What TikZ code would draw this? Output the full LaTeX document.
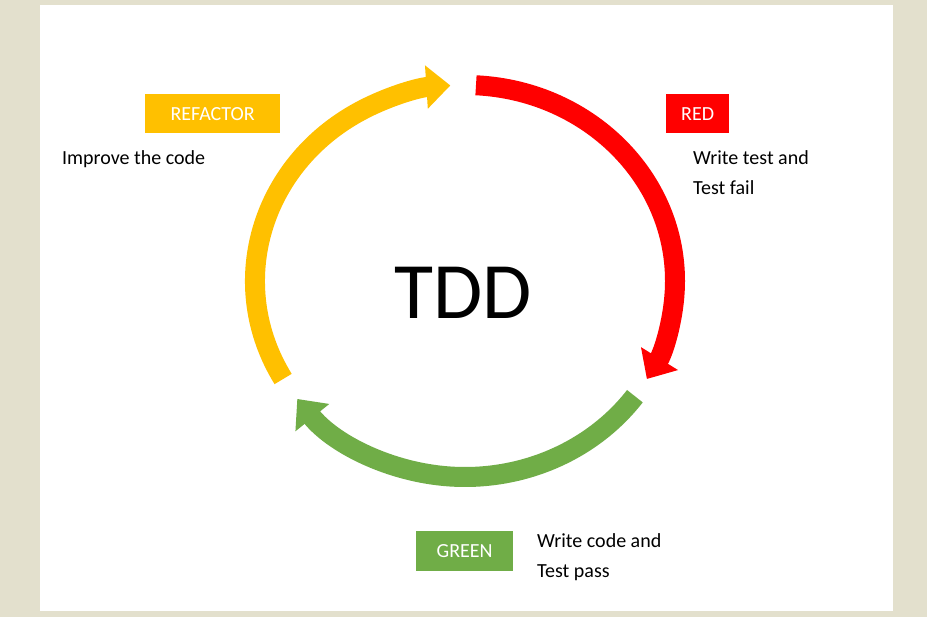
\documentclass[tikz,border=0pt]{standalone}
\usepackage{fontspec}
\setmainfont{Carlito}
\usetikzlibrary{arrows.meta}
\definecolor{bg}{HTML}{E3E0CD}
\definecolor{cred}{HTML}{FF0000}
\definecolor{cyel}{HTML}{FFC000}
\definecolor{cgrn}{HTML}{70AD47}
\begin{document}
\begin{tikzpicture}[x=1pt,y=1pt,
  ring/.style={line width=20pt,-{Triangle[width=42pt,length=24pt]}},
  tag/.style={inner sep=0pt,text=white,font=\fontsize{20}{24}\selectfont,anchor=north west},
  txt/.style={inner sep=0pt,font=\fontsize{20}{30}\selectfont,anchor=north west,align=left}]
\fill[bg] (0,0) rectangle (927,-617);
\fill[white] (40,-5) rectangle (893,-611);
\useasboundingbox (0,0) rectangle (927,-617);
\coordinate (c) at (465,-281);
\draw[ring,cred,shift={(c)}] (87:210pt and 196pt) arc[start angle=87,end angle=-30,x radius=210pt,y radius=196pt];
\draw[ring,cgrn,shift={(c)}] (-36:210pt and 196pt) arc[start angle=-36,end angle=-143,x radius=210pt,y radius=196pt];
\draw[ring,cyel,shift={(c)}] (210:210pt and 196pt) arc[start angle=210,end angle=94,x radius=210pt,y radius=196pt];
\node (tdd) at (463,-293) {\fontsize{80}{90}\selectfont TDD};
\node[tag,fill=cred,minimum width=63pt,minimum height=39pt] (red) at (666,-94) {};
\node[text=white,font=\fontsize{20}{24}\selectfont] at (red.center) {RED};
\node[tag,fill=cyel,minimum width=135pt,minimum height=39pt] (ref) at (145,-94) {};
\node[text=white,font=\fontsize{20}{24}\selectfont] at (ref.center) {REFACTOR};
\node[tag,fill=cgrn,minimum width=97pt,minimum height=40pt] (grn) at (416,-531) {};
\node[text=white,font=\fontsize{20}{24}\selectfont] at (grn.center) {GREEN};
\node[txt] (t1) at (62,-150) {Improve the code};
\node[txt] (t2) at (693,-150) {Write test and\\Test fail};
\node[txt] (t3) at (537,-533) {Write code and\\Test pass};
\end{tikzpicture}
\end{document}
